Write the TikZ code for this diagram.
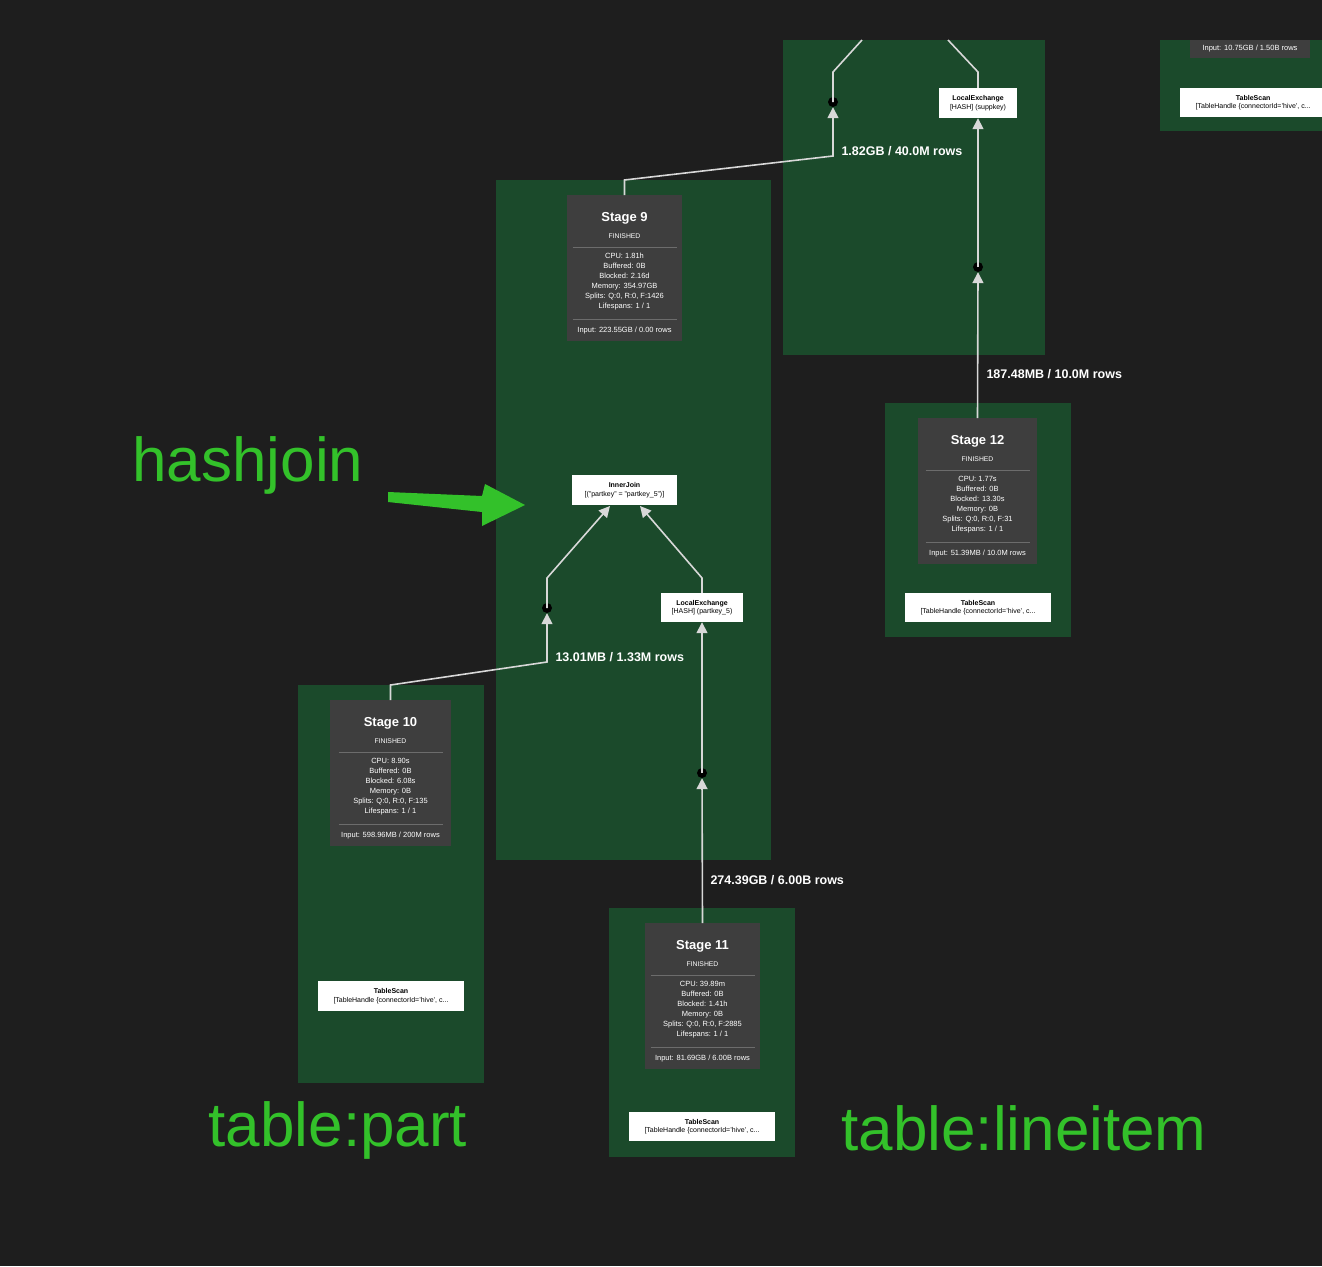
\documentclass[tikz,border=0pt]{standalone}
\usepackage{fontspec}
\setmainfont{Liberation Sans}
\usetikzlibrary{arrows.meta,calc}
\definecolor{bgc}{HTML}{1E1E1E}
\definecolor{clus}{HTML}{1B4A2B}
\definecolor{stg}{HTML}{3E3E3E}
\definecolor{edge}{HTML}{D8D8D8}
\definecolor{anno}{HTML}{33C12A}
\tikzset{
  cluster/.style={fill=clus,draw=none},
  stagebox/.style={fill=stg,draw=none,minimum height=146pt,inner sep=0pt,anchor=north},
  opbox/.style={fill=white,draw=none,inner sep=1.5pt,align=center,text=black,font=\fontsize{7}{8.5}\selectfont},
  conn/.style={draw=edge,line width=1.6pt},
  arr/.style={conn,-{Triangle[length=11pt,width=11pt]}},
  dotn/.style={circle,fill=black,inner sep=0pt,minimum size=10pt},
  elabel/.style={text=white,font=\bfseries\fontsize{12.5}{14}\selectfont,anchor=west},
  anntext/.style={text=anno,font=\fontsize{62}{70}\selectfont},
  small/.style={text=white,font=\fontsize{7.5}{10}\selectfont,align=center}
}
\newcommand{\mystage}[7]{%
  \node[stagebox,minimum width=#4] (#1) at (#2,#3) {};
  \node[text=white,font=\bfseries\fontsize{13}{15}\selectfont] (#1-t) at ($(#1.north)+(0,23)$) {#5};
  \node[small,font=\fontsize{6.8}{8}\selectfont] (#1-f) at ($(#1.north)+(0,41)$) {FINISHED};
  \draw[gray!70!stg,line width=0.6pt] ($(#1.north)+(-52,52)$) -- ($(#1.north)+(52,52)$);
  \node[small,anchor=north,inner sep=0pt] (#1-s) at ($(#1.north)+(0,58)$) {#6};
  \draw[gray!70!stg,line width=0.6pt] ($(#1.north)+(-52,124)$) -- ($(#1.north)+(52,124)$);
  \node[small] (#1-i) at ($(#1.north)+(0,136)$) {#7};
}
\begin{document}
\begin{tikzpicture}[x=1pt,y=-1pt]
\useasboundingbox (0,0) rectangle (1322,1266);
\fill[bgc] (0,0) rectangle (1322,1266);
% clusters
\fill[cluster] (496,180) rectangle (771,860);
\fill[cluster] (783,40) rectangle (1045,355);
\fill[cluster] (1160,40) rectangle (1322,131);
\fill[cluster] (885,403) rectangle (1071,637);
\fill[cluster] (298,685) rectangle (484,1083);
\fill[cluster] (609,908) rectangle (795,1157);
% stages
\mystage{s9}{624.5}{195}{115pt}{Stage 9}{CPU: 1.81h\\Buffered: 0B\\Blocked: 2.16d\\Memory: 354.97GB\\Splits: Q:0, R:0, F:1426\\Lifespans: 1 / 1}{Input: 223.55GB / 0.00 rows}
\mystage{s12}{977.5}{418}{119pt}{Stage 12}{CPU: 1.77s\\Buffered: 0B\\Blocked: 13.30s\\Memory: 0B\\Splits: Q:0, R:0, F:31\\Lifespans: 1 / 1}{Input: 51.39MB / 10.0M rows}
\mystage{s10}{390.5}{700}{121pt}{Stage 10}{CPU: 8.90s\\Buffered: 0B\\Blocked: 6.08s\\Memory: 0B\\Splits: Q:0, R:0, F:135\\Lifespans: 1 / 1}{Input: 598.96MB / 200M rows}
\mystage{s11}{702.5}{923}{115pt}{Stage 11}{CPU: 39.89m\\Buffered: 0B\\Blocked: 1.41h\\Memory: 0B\\Splits: Q:0, R:0, F:2885\\Lifespans: 1 / 1}{Input: 81.69GB / 6.00B rows}
\node[fill=stg,small,minimum width=120pt,minimum height=18pt,inner sep=0pt] (trin) at (1250,49) {Input: 10.75GB / 1.50B rows};
% operator boxes
\node[opbox,minimum width=105pt,minimum height=30pt] (ij) at (624.5,490) {\textbf{InnerJoin}\\{}[("partkey" = "partkey\_5")]};
\node[opbox,minimum width=82pt,minimum height=29pt] (le5) at (702,607.5) {\textbf{LocalExchange}\\{}[HASH] (partkey\_5)};
\node[opbox,minimum width=78pt,minimum height=30pt] (les) at (978,103) {\textbf{LocalExchange}\\{}[HASH] (suppkey)};
\node[opbox,minimum width=146pt,minimum height=29pt,anchor=west] (ts0) at (1180,102.5) {\textbf{TableScan}\\{}[TableHandle \{connectorId='hive', c...};
\node[opbox,minimum width=146pt,minimum height=29pt] (ts12) at (978,607.5) {\textbf{TableScan}\\{}[TableHandle \{connectorId='hive', c...};
\node[opbox,minimum width=146pt,minimum height=30pt] (ts10) at (391,996) {\textbf{TableScan}\\{}[TableHandle \{connectorId='hive', c...};
\node[opbox,minimum width=146pt,minimum height=29pt] (ts11) at (702,1126.5) {\textbf{TableScan}\\{}[TableHandle \{connectorId='hive', c...};
% dots
\node[dotn] (d1) at (833,102) {};
\node[dotn] (d2) at (978,267) {};
\node[dotn] (d3) at (547,608) {};
\node[dotn] (d4) at (702,773) {};
\coordinate (c1) at (862,40);
\coordinate (c2) at (948,40);
% connectors
\draw[arr] (s9.north) -- (624.5,180) -- (833,156) -- (d1.south);
\draw[conn] (d1.center) -- (833,72) -- (c1);
\draw[conn] (les.north) -- (978,72) -- (c2);
\draw[arr] (d2.center) -- (les.south);
\draw[arr] (s12.north) -- (d2.south);
\draw[arr] (s10.north) -- (390.5,685) -- (547,662) -- (d3.south);
\draw[arr] (d3.center) -- (547,578) -- (610,506);
\draw[arr] (le5.north) -- (702,578) -- (640,506);
\draw[arr] (s11.north) -- (d4.south);
\draw[arr] (d4.center) -- (le5.south);
% edge labels
\node[elabel] (l1) at (838,151) {1.82GB / 40.0M rows};
\node[elabel] (l2) at (983,374) {187.48MB / 10.0M rows};
\node[elabel] (l3) at (552,657) {13.01MB / 1.33M rows};
\node[elabel] (l4) at (707,880) {274.39GB / 6.00B rows};
% annotations
\node[anntext] (a1) at (248,465) {hashjoin};
\node[anntext] (a2) at (338,1130) {table:part};
\node[anntext] (a3) at (1024,1128) {table:lineitem};
\fill[anno] (388,492) -- (482,496) -- (485,484) -- (525,505) -- (482,526) -- (482,512) -- (388,502) -- cycle;
\end{tikzpicture}
\end{document}
